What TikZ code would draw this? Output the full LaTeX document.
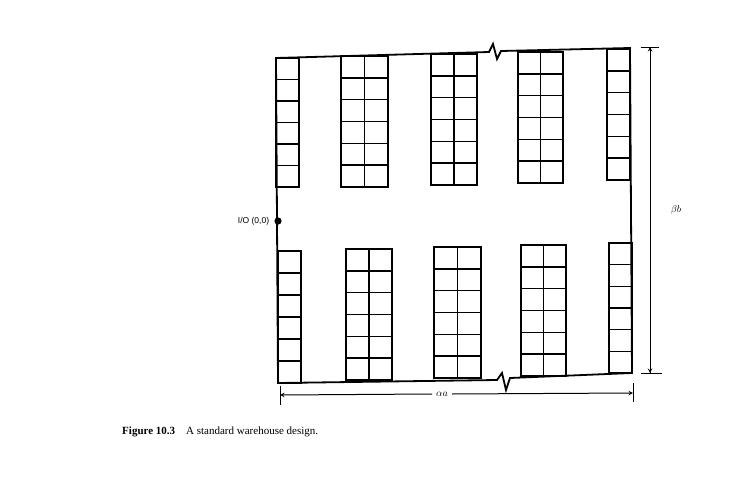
\documentclass[tikz,border=0pt]{standalone}
\usepackage{fontspec}
\setmainfont{Liberation Serif}
\newfontfamily\lab{Liberation Sans}
\begin{document}
\begin{tikzpicture}[x=1pt,y=-1pt,line width=1.8pt,
  rk/.style={line width=1.5pt},
  dim/.style={line width=1pt}]
\useasboundingbox (0,0) rectangle (740,485);
\newcommand\rack[5]{% x1 y1 x2 y2 ncols
  \draw[rk] (#1,#2) rectangle (#3,#4);
  \foreach \i in {1,...,5}{\draw[rk] (#1,{#2+\i*(#4-#2)/6}) -- (#3,{#2+\i*(#4-#2)/6});}
  \ifnum#5=2 \draw[rk] ({(#1+#3)/2},#2) -- ({(#1+#3)/2},#4);\fi}
% outline
\coordinate (tl) at (276,58); \coordinate (tr) at (630,48);
\coordinate (bl) at (278,383); \coordinate (br) at (632,373);
\draw (tl) -- (489,52) -- (493,44) -- (497,59) -- (501,51) -- (tr) -- (br)
  -- (510,378) -- (506,390) -- (502,373) -- (497,380) -- (bl) -- (tl);
% top racks
\rack{276}{58}{299}{187}{1}
\rack{341}{56}{388}{187}{2}
\rack{431}{54}{477}{185}{2}
\rack{518}{52}{563}{183}{2}
\rack{607}{49}{630}{180}{1}
% bottom racks
\rack{278}{251}{301}{383}{1}
\rack{346}{249}{392}{380}{2}
\rack{434}{247}{481}{378}{2}
\rack{521}{245}{566}{376}{2}
\rack{609}{243}{632}{373}{1}
% I/O
\fill (278,221) circle (3.6) coordinate (io);
\node[anchor=east,font=\lab\fontsize{8.5}{10}\selectfont,inner sep=2pt] (iol) at (272,221) {I/O (0,0)};
% beta b
\coordinate (bt) at (650,47); \coordinate (bb) at (650,373);
\draw[dim] (641,47) -- (659,47); \draw[dim] (641,373) -- (662,373);
\draw[dim,->,>=stealth] (bt) -- (bb);
\draw[dim,->,>=stealth] (bb) -- (bt);
\node[font=\fontsize{10}{12}\selectfont] (betab) at (676,210) {$\beta b$};
% alpha a
\coordinate (al) at (280,395); \coordinate (ar) at (633,393);
\draw[dim] (280,386) -- (280,405); \draw[dim] (633,383) -- (633,402);
\draw[dim,->,>=stealth] (452,394) -- (ar);
\draw[dim,->,>=stealth] (432,394) -- (al);
\node[fill=white,inner sep=1pt,font=\fontsize{10}{12}\selectfont] (alpha) at (442,394) {$\alpha a$};
% caption
\node[anchor=west,font=\fontsize{11}{13}\selectfont] (cap) at (118,432) {\textbf{Figure 10.3}\quad A standard warehouse design.};
\end{tikzpicture}
\end{document}
